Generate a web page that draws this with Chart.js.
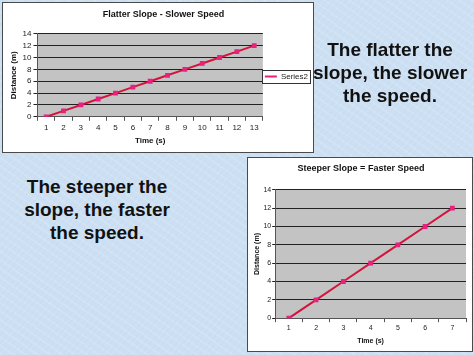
<!DOCTYPE html>
<html>
<head>
<meta charset="utf-8">
<script src="https://cdn.jsdelivr.net/npm/chart.js@4.4.0/dist/chart.umd.min.js"></script>
<style>
  html, body { margin:0; padding:0; }
  body {
    width:474px; height:355px; position:relative; overflow:hidden;
    background-color:#cde0f3;
    background-image:
      repeating-linear-gradient(35deg, rgba(255,255,255,0.10) 0 2px, rgba(255,255,255,0) 2px 7px),
      repeating-linear-gradient(-50deg, rgba(150,180,215,0.08) 0 1px, rgba(150,180,215,0) 1px 5px);
    font-family:"Liberation Sans", Arial, sans-serif;
  }
  .box { position:absolute; background:#fff; border:1px solid #4a4a4a; }
  #box1 { left:2px; top:2px; width:310px; height:149px; }
  #box2 { left:247px; top:157px; width:224px; height:193px; }
  .note { position:absolute; font-weight:bold; font-size:19px; line-height:23px; text-align:center; color:#111; white-space:nowrap; }
  #note1 { left:305px; top:38px; width:170px; }
  #note2 { left:7px; top:175px; width:180px; }
</style>
</head>
<body>
<div class="box" id="box1"><canvas id="flatChart" width="310" height="149"></canvas></div>
<div class="box" id="box2"><canvas id="steepChart" width="224" height="193"></canvas></div>
<div class="note" id="note1">The flatter the<br>slope, the slower<br>the speed.</div>
<div class="note" id="note2">The steeper the<br>slope, the faster<br>the speed.</div>
<script>
// flatter slope data
const flatTimes = ['1','2','3','4','5','6','7','8','9','10','11','12','13'];
const flatDist = [0,1,2,3,4,5,6,7,8,9,10,11,12];
// steeper slope data
const steepTimes = ['1','2','3','4','5','6','7'];
const steepDist = [0,2,4,6,8,10,12];

const lineColor = '#d4143c';
const dotColor = '#e8207e';

// grey plot background
const plotBg = {
  id: 'plotBg',
  beforeDraw(chart) {
    const a = chart.chartArea, ctx = chart.ctx;
    ctx.save();
    ctx.fillStyle = '#c3c3c3';
    ctx.fillRect(a.left, a.top, a.right - a.left, a.bottom - a.top);
    ctx.restore();
  }
};

// thin border round the legend items
const legendBox = {
  id: 'legendBox',
  afterDraw(chart) {
    const l = chart.legend;
    if (!l || !l.options.display || !l.legendHitBoxes.length) return;
    const h = l.legendHitBoxes[0];
    const ctx = chart.ctx;
    ctx.save();
    ctx.strokeStyle = '#333';
    ctx.lineWidth = 1;
    ctx.strokeRect(Math.round(h.left) - 2.5, Math.round(h.top) - 2.5, Math.round(h.width) + 5, Math.round(h.height) + 5);
    ctx.restore();
  }
};

function makeChart(id, labels, values, title, showLegend, o) {
  const tickFont = { family: 'Liberation Sans', size: o.tick };
  const titleFont = { family: 'Liberation Sans', size: o.tick, weight: 'bold' };
  return new Chart(document.getElementById(id), {
    type: 'line',
    data: {
      labels: labels,
      datasets: [{
        label: 'Series2',
        data: values,
        borderColor: lineColor,
        borderWidth: 2,
        pointStyle: 'rect',
        pointRadius: 2,
        pointBackgroundColor: dotColor,
        pointBorderColor: dotColor,
        tension: 0
      }]
    },
    options: {
      responsive: false,
      animation: false,
      layout: { padding: o.pad },
      plugins: {
        title: { display: true, text: title, color: '#111', font: { family: 'Liberation Sans', size: 9, weight: 'bold' }, padding: o.titlePad },
        legend: {
          display: showLegend,
          position: 'right',
          labels: { usePointStyle: true, pointStyle: 'line', pointStyleWidth: 12, boxHeight: 6, padding: 2, color: '#222', font: { family: 'Liberation Sans', size: 8 } }
        },
        tooltip: { enabled: false }
      },
      scales: {
        x: {
          offset: true,
          border: { color: '#555' },
          grid: { display: true, drawOnChartArea: false, drawTicks: true, tickLength: 4, color: '#555', offset: true },
          ticks: { color: '#222', font: tickFont, padding: 2, maxRotation: 0, autoSkip: false },
          title: { display: true, text: 'Time (s)', color: '#111', font: titleFont, padding: { top: 2, bottom: 0 } }
        },
        y: {
          min: 0, max: 14,
          border: { color: '#555' },
          grid: { color: '#222', tickLength: o.yTick, lineWidth: 1 },
          ticks: { stepSize: 2, autoSkip: false, color: '#222', font: tickFont, padding: o.yPad },
          title: { display: true, text: 'Distance (m)', color: '#111', font: titleFont, padding: { top: 0, bottom: o.yTitlePad } }
        }
      }
    },
    plugins: [plotBg, legendBox]
  });
}

makeChart('flatChart', flatTimes, flatDist, 'Flatter Slope - Slower Speed', true, {
  tick: 8, yTick: 4, yPad: 2, yTitlePad: 2,
  pad: { left: 6, right: -5, top: 4, bottom: 6 },
  titlePad: { top: 2, bottom: 14 }
});
makeChart('steepChart', steepTimes, steepDist, 'Steeper Slope = Faster Speed', false, {
  tick: 7, yTick: 3, yPad: 1, yTitlePad: 1,
  pad: { left: 5, right: 3, top: 3, bottom: 6 },
  titlePad: { top: 2, bottom: 16 }
});
</script>
</body>
</html>
